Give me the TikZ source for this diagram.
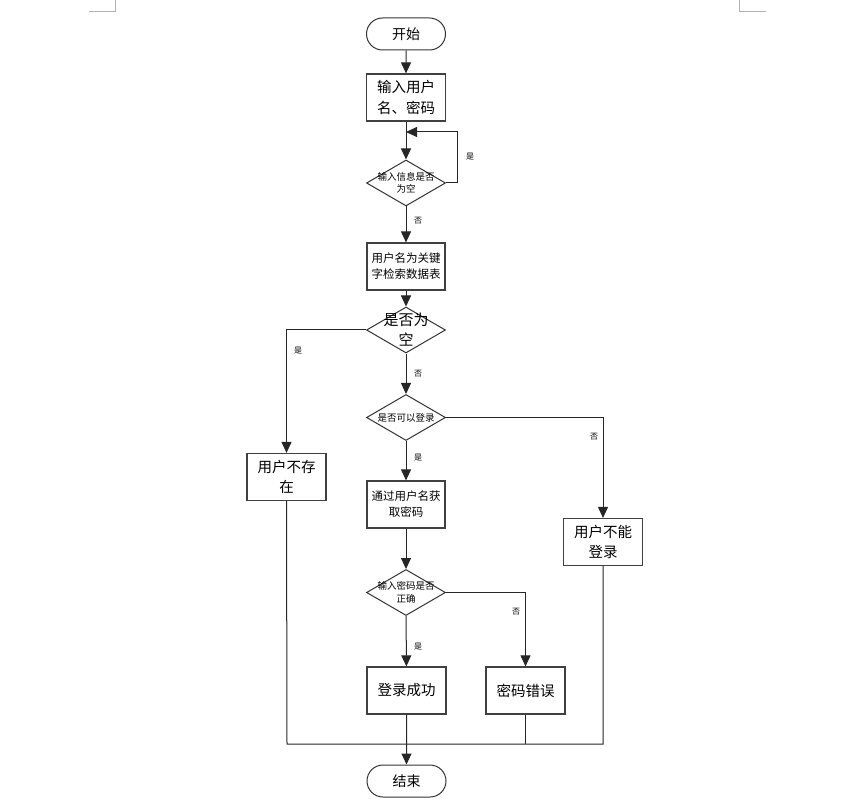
\documentclass[tikz,border=0pt]{standalone}
\usepackage{fontspec}
\setmainfont{Noto Sans CJK SC}
\usetikzlibrary{shapes.geometric,shapes.misc,arrows.meta}
\tikzset{
  box/.style={draw=black!75,line width=1.2pt,rectangle,minimum width=79pt,minimum height=47pt,inner sep=0pt,align=center},
  term/.style={draw=black!80,line width=1pt,rounded rectangle,minimum width=79pt,minimum height=32pt,inner sep=0pt,font=\fontsize{14}{16}\selectfont},
  dia/.style={draw=black!80,line width=1pt,diamond,aspect=1.7,minimum width=79pt,minimum height=46pt,inner sep=0pt},
  conn/.style={draw=black!85,line width=1pt},
  arr/.style={conn,-{Triangle[length=11pt,width=10pt]}},
  lab/.style={font=\fontsize{8}{9}\selectfont,inner sep=0pt},
  big/.style={font=\fontsize{14.5}{21}\selectfont},
  mid/.style={font=\fontsize{11.5}{16}\selectfont},
  sml/.style={font=\fontsize{9.5}{12.5}\selectfont,align=center},
}
\begin{document}
\begin{tikzpicture}[x=1pt,y=-1pt]
\useasboundingbox (0,0) rectangle (851,799);
% page corner marks
\draw[black!30,line width=0.8pt] (115,0) -- (115,11) -- (89,11);
\draw[black!30,line width=0.8pt] (739,0) -- (739,11) -- (766,11);

\node[term] (start) at (406,34) {开始};
\node[box,big] (input) at (406,97.5) {输入用户\\名、密码};
\node[dia,label={[sml]center:输入信息是否\\为空}] (d1) at (406,183) {};
\node[box,mid,minimum width=78pt] (search) at (406,266.5) {用户名为关键\\字检索数据表};
\node[dia,label={[align=center,font=\fontsize{15}{20}\selectfont]center:是否为\\空}] (d2) at (406,330) {};
\node[dia,label={[sml]center:是否可以登录}] (d3) at (406,417.5) {};
\node[box,font=\fontsize{14.5}{20}\selectfont] (nouser) at (286.5,477) {用户不存\\在};
\node[box,mid,minimum width=78pt] (getpw) at (406,504.5) {通过用户名获\\取密码};
\node[box,font=\fontsize{14.5}{20}\selectfont] (cannot) at (603,542) {用户不能\\登录};
\node[dia,label={[sml]center:输入密码是否\\正确}] (d4) at (406,592.5) {};
\node[box,big] (ok) at (406.5,690.5) {登录成功};
\node[box,big] (wrong) at (525.5,690.5) {密码错误};
\node[term] (end) at (406.5,781) {结束};

\coordinate (loopin) at (406,132);
\coordinate (jl) at (287,744);
\coordinate (jr) at (603,744);

\draw[arr] (start) -- (input);
\draw[arr] (input) -- (d1);
\draw[arr] (d1.east) -- ++(11,0) |- (loopin);
\node[lab] (l1) at (470,157) {是};
\draw[arr] (d1) -- (search);
\node[lab] (l2) at (418,221) {否};
\draw[arr] (search) -- (d2);
\draw[arr] (d2.west) -| (nouser.north);
\node[lab] (l3) at (298,351) {是};
\draw[arr] (d2) -- (d3);
\node[lab] (l4) at (418,374) {否};
\draw[arr] (d3.east) -| (cannot.north);
\node[lab] (l5) at (594,437) {否};
\draw[arr] (d3) -- (getpw);
\node[lab] (l6) at (418,458) {是};
\draw[arr] (getpw) -- (d4);
\draw[arr] (d4.east) -| (wrong.north);
\node[lab] (l7) at (516,612) {否};
\draw[arr] (d4) -- (ok);
\node[lab] (l8) at (418,647) {是};
\draw[arr] (ok) -- (end);
\draw[conn] (nouser.south) -- (jl) -- (jr) -- (cannot.south);
\draw[conn] (wrong.south) -- (wrong.south |- jl);
\end{tikzpicture}
\end{document}
